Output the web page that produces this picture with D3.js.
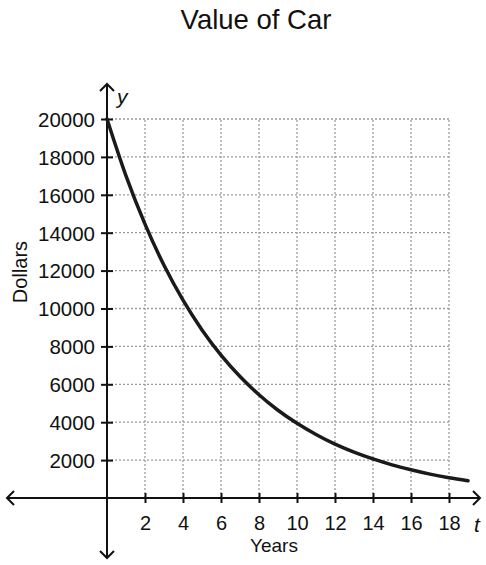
<!DOCTYPE html>
<html>
<head>
<meta charset="utf-8">
<script src="https://cdn.jsdelivr.net/npm/d3@7"></script>
<style>
  body { margin: 0; background: #fff; }
  svg text { font-family: "Liberation Sans", Arial, sans-serif; fill: #111; }
</style>
</head>
<body>
<div id="chart"></div>
<script>
// values
const years = [0, 1, 2, 3, 4, 5, 6, 7, 8, 9, 10, 11, 12, 13, 14, 15, 16, 17, 18, 19]
const dollars = [20000, 17000, 14450, 12280, 10440, 8870, 7540, 6410, 5450, 4630,
  3940, 3350, 2840, 2420, 2060, 1750, 1490, 1260, 1070, 910]
const xTicks = [2, 4, 6, 8, 10, 12, 14, 16, 18]
const yTicks = [2000, 4000, 6000, 8000, 10000, 12000, 14000, 16000, 18000, 20000]

const width = 486, height = 565

const x = d3.scaleLinear().domain([0, 18]).range([107, 449])
const y = d3.scaleLinear().domain([0, 20000]).range([498, 119])

const svg = d3.select('#chart')
  .append('svg')
  .attr('width', width)
  .attr('height', height)

svg.append('text')
  .attr('x', 256)
  .attr('y', 29)
  .attr('text-anchor', 'middle')
  .style('font-size', '27.5px')
  .text('Value of Car')

// dotted grid
const grid = svg.append('g')
  .attr('stroke', '#9a9a9a')
  .attr('stroke-width', 1.3)
  .attr('stroke-dasharray', '2,2')
grid.selectAll('.v')
  .data(xTicks)
  .enter().append('line')
  .attr('x1', d => x(d)).attr('x2', d => x(d))
  .attr('y1', y(0)).attr('y2', y(20000))
grid.selectAll('.h')
  .data(yTicks)
  .enter().append('line')
  .attr('x1', x(0)).attr('x2', x(18))
  .attr('y1', d => y(d)).attr('y2', d => y(d))

// axis lines with open arrow heads
const axes = svg.append('g')
  .attr('stroke', '#111')
  .attr('stroke-width', 2)
  .attr('fill', 'none')
axes.append('line')
  .attr('x1', 7).attr('x2', 480)
  .attr('y1', y(0)).attr('y2', y(0))
axes.append('line')
  .attr('x1', x(0)).attr('x2', x(0))
  .attr('y1', 84).attr('y2', 558)
const chev = (pts) => axes.append('path').attr('d', d3.line()(pts))
chev([[14, y(0) - 7], [7, y(0)], [14, y(0) + 7]])
chev([[473, y(0) - 7], [480, y(0)], [473, y(0) + 7]])
chev([[x(0) - 7, 91], [x(0), 84], [x(0) + 7, 91]])
chev([[x(0) - 7, 551], [x(0), 558], [x(0) + 7, 551]])

// y ticks
const yAxis = d3.axisLeft(y).tickValues(yTicks).tickFormat(d3.format('d'))
  .tickSize(6).tickPadding(6)
const yG = svg.append('g')
  .attr('transform', 'translate(' + x(0) + ',0)')
  .call(yAxis)
yG.select('.domain').remove()
yG.selectAll('.tick line').attr('x1', 6).attr('stroke', '#111').attr('stroke-width', 2)
yG.selectAll('.tick text')
  .style('font-size', '20.5px')
  .style('font-family', '"Liberation Sans", Arial, sans-serif')
  .attr('fill', '#111')
  .attr('dy', '0.36em')

// x ticks
const xAxis = d3.axisBottom(x).tickValues(xTicks).tickSize(5).tickPadding(13)
const xG = svg.append('g')
  .attr('transform', 'translate(0,' + y(0) + ')')
  .call(xAxis)
xG.select('.domain').remove()
xG.selectAll('.tick line').attr('y1', -5).attr('stroke', '#111').attr('stroke-width', 2)
xG.selectAll('.tick text')
  .style('font-size', '20px')
  .style('font-family', '"Liberation Sans", Arial, sans-serif')
  .attr('fill', '#111')

// axis labels
svg.append('text')
  .attr('x', 274)
  .attr('y', 552)
  .attr('text-anchor', 'middle')
  .style('font-size', '19px')
  .text('Years')
svg.append('text')
  .attr('transform', 'translate(27,272) rotate(-90)')
  .attr('text-anchor', 'middle')
  .style('font-size', '20px')
  .text('Dollars')
svg.append('text')
  .attr('x', 117)
  .attr('y', 104)
  .style('font-size', '21px')
  .style('font-style', 'italic')
  .text('y')
svg.append('text')
  .attr('x', 474)
  .attr('y', 532)
  .style('font-size', '21px')
  .style('font-style', 'italic')
  .text('t')

// value curve
const line = d3.line()
  .x((d, i) => x(years[i]))
  .y(d => y(d))
  .curve(d3.curveMonotoneX)
svg.append('path')
  .datum(dollars)
  .attr('d', line)
  .attr('fill', 'none')
  .attr('stroke', '#1a1a1a')
  .attr('stroke-width', 3.5)
  .attr('stroke-linecap', 'round')
</script>
</body>
</html>
